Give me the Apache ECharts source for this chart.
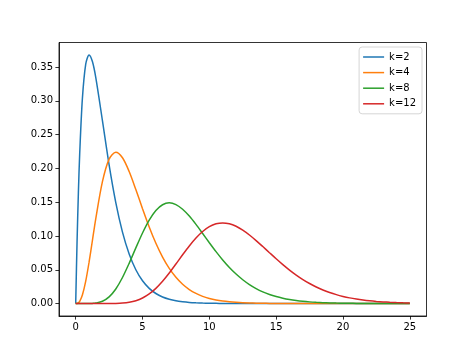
<!DOCTYPE html>
<html>
<head>
<meta charset="utf-8">
<script src="https://cdn.jsdelivr.net/npm/echarts@6/dist/echarts.min.js"></script>
<style>html,body{margin:0;padding:0;background:#fff}#c{width:474px;height:355px}</style>
</head>
<body>
<div id="c"></div>
<script>
// x sample positions
const xs = [0,0.1,0.2,0.3,0.5,0.75,1,1.25,1.5,
  2,2.5,3,3.5,4,4.5,5,5.5,6,6.5,7,7.5,8,8.5,9,9.5,10,10.5,11,11.5,12,12.5,13,13.5,14,14.5,15,15.5,16,16.5,17,17.5,18,18.5,19,19.5,20,20.5,21,21.5,22,22.5,23,23.5,24,24.5,25];
const seriesNames = ['k=2','k=4','k=8','k=12'];
const k2 = [0,0.0905,0.1637,0.2222,0.3033,0.3543,0.3679,0.3581,0.3347,
  0.2707,0.2052,0.1494,0.1057,0.0733,0.0500,0.0337,0.0225,0.0149,0.0098,0.0064,0.0041,0.0027,0.0017,0.0011,0.0007,0.00045,0.00029,0.00018,0.00012,0.00007,0.00005,0.00003,0.00002,0.00001,0.00001,0,0,0,0,0,0,0,0,0,0,0,0,0,0,0,0,0,0,0,0,0];
const k4 = [0,0.00015,0.0011,0.0033,0.0126,0.0332,0.0613,0.0933,0.1255,
  0.1804,0.2138,0.2240,0.2158,0.1954,0.1687,0.1404,0.1133,0.0892,0.0688,0.0521,0.0389,0.0286,0.0208,0.0150,0.0107,0.0076,0.0053,0.0037,0.0026,0.0018,0.0012,0.00083,0.00056,0.00038,0.00026,0.00017,0.00012,0.00008,0.00005,0.00003,0.00002,0.000015,0.00001,0.000006,0.000004,0.000003,0.000002,0.000001,0.000001,0,0,0,0,0,0,0];
const k8 = [0,0,0,0,0.000001,0.0000125,0.000073,0.00027,0.00076,
  0.00344,0.00994,0.02160,0.03855,0.05954,0.08236,0.10444,0.12345,0.13768,0.14623,0.14900,0.14648,0.13959,0.12942,0.11712,0.10371,0.09008,0.07688,0.06458,0.05346,0.04368,0.03526,0.02814,0.02223,0.01739,0.01349,0.01037,0.00791,0.00599,0.00451,0.00337,0.00250,0.00185,0.00136,0.00099,0.00072,0.00052,0.00038,0.00027,0.00019,0.00014,0.00010,0.00007,0.00005,0.000034,0.000024,0.000017];
const k12 = [0,0,0,0,0,0,0,0,0.0000005,
  0.000007,0.000049,0.00022,0.00073,0.00193,0.00426,0.00824,0.01426,0.02253,0.03296,0.04517,0.05852,0.07219,0.08530,0.09702,0.10666,0.11374,0.11799,0.11938,0.11806,0.11436,0.10869,0.10148,0.09323,0.08435,0.07529,0.06629,0.05767,0.04960,0.04220,0.03555,0.02965,0.02452,0.02010,0.01636,0.01320,0.01057,0.00841,0.00666,0.00523,0.00408,0.00317,0.00245,0.00188,0.00144,0.00110,0.00083];
const xTicks = [0,5,10,15,20,25];
const yTicks = [0,0.05,0.10,0.15,0.20,0.25,0.30,0.35];
const colors = ['#1f77b4','#ff7f0e','#2ca02c','#d62728'];

const all = [k2,k4,k8,k12];
const chart = echarts.init(document.getElementById('c'), null, {renderer:'canvas'});
const font = 'DejaVu Sans';
chart.setOption({
  animation:false,
  backgroundColor:'#fff',
  color:colors,
  textStyle:{fontFamily:font},
  grid:{left:59,right:47.5,top:42.5,bottom:39,show:true,borderColor:'#000',borderWidth:0.8,backgroundColor:'transparent'},
  legend:{
    orient:'vertical', right:52, top:47,
    data:seriesNames,
    icon:'rect', itemWidth:21, itemHeight:1.5, itemGap:3.6,
    textStyle:{fontFamily:font,fontSize:10,color:'#000',lineHeight:12},
    backgroundColor:'rgba(255,255,255,0.8)', borderColor:'#ccc', borderWidth:0.8, borderRadius:3,
    padding:[4,6,4,4]
  },
  xAxis:{
    type:'value', min:-1.25, max:26.25,
    axisLine:{show:true,onZero:false,lineStyle:{color:'#000',width:0.8}},
    axisTick:{show:true,length:3.6,lineStyle:{color:'#000',width:0.8},customValues:xTicks},
    axisLabel:{customValues:xTicks,margin:6,fontSize:10,color:'#000',fontFamily:font},
    splitLine:{show:false}
  },
  yAxis:{
    type:'value', min:-0.0184, max:0.3863,
    axisLine:{show:true,onZero:false,lineStyle:{color:'#000',width:0.8}},
    axisTick:{show:true,length:3.6,lineStyle:{color:'#000',width:0.8},customValues:yTicks},
    axisLabel:{customValues:yTicks,margin:6,fontSize:10,color:'#000',fontFamily:font,formatter:v=>v.toFixed(2)},
    splitLine:{show:false}
  },
  series: all.map((arr,i)=>({
    name:seriesNames[i], type:'line', showSymbol:false, symbol:'none', smooth:0.3,
    lineStyle:{width:1.5,color:colors[i]},
    data: xs.map((x,j)=>[x,arr[j]])
  }))
});
</script>
</body>
</html>
